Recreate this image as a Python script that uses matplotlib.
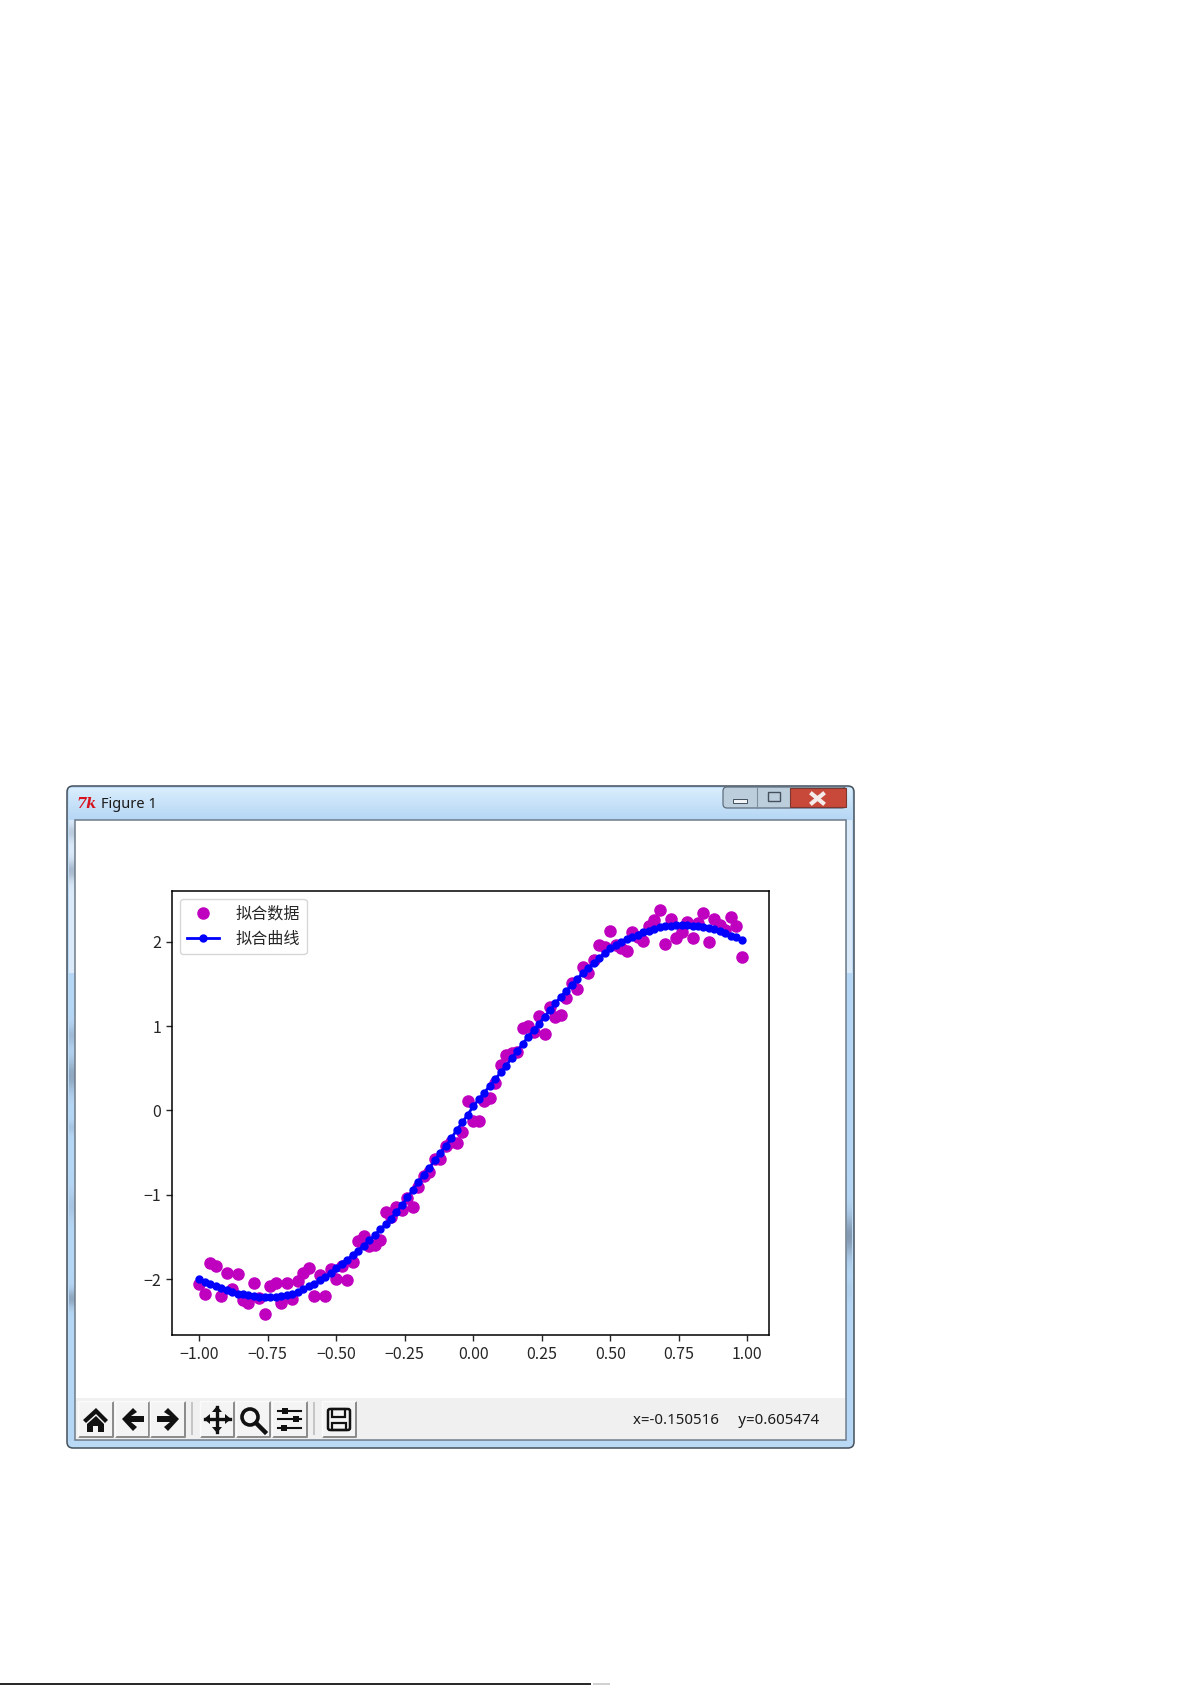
#!/usr/bin/env python3
"""Polynomial fit screenshot: scatter plus fitted curve inside a Tk window."""

import matplotlib
matplotlib.use('Agg')
import matplotlib.pyplot as plt
import numpy as np
from matplotlib.patches import Circle, FancyBboxPatch, Polygon, Rectangle

plt.rcParams['font.family'] = ['Noto Sans CJK SC', 'DejaVu Sans']
plt.rcParams['axes.unicode_minus'] = True

W, H = 1191, 1685

x_values = [
    -1.00, -0.98, -0.96, -0.94, -0.92, -0.90, -0.88, -0.86, -0.84, -0.82,
    -0.80, -0.78, -0.76, -0.74, -0.72, -0.70, -0.68, -0.66, -0.64, -0.62,
    -0.60, -0.58, -0.56, -0.54, -0.52, -0.50, -0.48, -0.46, -0.44, -0.42,
    -0.40, -0.38, -0.36, -0.34, -0.32, -0.30, -0.28, -0.26, -0.24, -0.22,
    -0.20, -0.18, -0.16, -0.14, -0.12, -0.10, -0.08, -0.06, -0.04, -0.02,
    0.00, 0.02, 0.04, 0.06, 0.08, 0.10, 0.12, 0.14, 0.16, 0.18,
    0.20, 0.22, 0.24, 0.26, 0.28, 0.30, 0.32, 0.34, 0.36, 0.38,
    0.40, 0.42, 0.44, 0.46, 0.48, 0.50, 0.52, 0.54, 0.56, 0.58,
    0.60, 0.62, 0.64, 0.66, 0.68, 0.70, 0.72, 0.74, 0.76, 0.78,
    0.80, 0.82, 0.84, 0.86, 0.88, 0.90, 0.92, 0.94, 0.96, 0.98,
]
y_data = [
    -2.05, -2.17, -1.81, -1.84, -2.20, -1.93, -2.12, -1.94, -2.24, -2.28,
    -2.04, -2.22, -2.41, -2.08, -2.04, -2.28, -2.04, -2.23, -2.02, -1.93,
    -1.87, -2.20, -1.95, -2.20, -1.88, -2.00, -1.84, -2.01, -1.79, -1.55,
    -1.49, -1.60, -1.59, -1.53, -1.20, -1.26, -1.14, -1.18, -1.04, -1.14,
    -0.91, -0.78, -0.73, -0.57, -0.58, -0.42, -0.37, -0.38, -0.25, 0.11,
    -0.12, -0.12, 0.11, 0.15, 0.32, 0.54, 0.66, 0.68, 0.69, 0.98,
    1.00, 0.93, 1.12, 0.91, 1.22, 1.11, 1.13, 1.33, 1.51, 1.44,
    1.70, 1.63, 1.78, 1.96, 1.94, 2.13, 1.96, 1.93, 1.89, 2.12,
    2.06, 2.01, 2.18, 2.26, 2.37, 1.97, 2.27, 2.04, 2.11, 2.23,
    2.04, 2.22, 2.34, 1.99, 2.27, 2.20, 2.14, 2.29, 2.19, 1.82,
]
y_fit = [
    -2.00, -2.03, -2.06, -2.08, -2.10, -2.13, -2.15, -2.17, -2.18, -2.19,
    -2.20, -2.21, -2.21, -2.21, -2.21, -2.20, -2.19, -2.17, -2.15, -2.12,
    -2.08, -2.05, -2.01, -1.97, -1.92, -1.87, -1.82, -1.77, -1.71, -1.66,
    -1.60, -1.54, -1.48, -1.41, -1.35, -1.28, -1.20, -1.12, -1.03, -0.94,
    -0.85, -0.76, -0.68, -0.59, -0.50, -0.42, -0.33, -0.23, -0.14, -0.05,
    0.05, 0.13, 0.21, 0.29, 0.37, 0.45, 0.53, 0.62, 0.70, 0.79,
    0.87, 0.95, 1.03, 1.11, 1.19, 1.27, 1.35, 1.42, 1.49, 1.56,
    1.63, 1.69, 1.75, 1.81, 1.87, 1.92, 1.96, 1.99, 2.03, 2.06,
    2.08, 2.11, 2.13, 2.15, 2.17, 2.18, 2.19, 2.20, 2.20, 2.20,
    2.19, 2.18, 2.17, 2.16, 2.15, 2.13, 2.10, 2.07, 2.05, 2.02,
]
x_ticks = [-1.00, -0.75, -0.50, -0.25, 0.00, 0.25, 0.50, 0.75, 1.00]
y_ticks = [-2, -1, 0, 1, 2]
legend_labels = ['拟合数据', '拟合曲线']
window_title = 'Figure 1'
status_text = 'x=-0.150516     y=0.605474'

ICON = '#111111'
TOP = 5  # toolbar glyphs sit above the client area


def rect(bg, x0, y0, x1, y1, color, **kw):
    kw.setdefault('zorder', TOP)
    bg.add_patch(Rectangle((x0, y0), x1 - x0, y1 - y0, facecolor=color,
                           edgecolor=kw.pop('edge', 'none'), **kw))


def poly(bg, pts, color=ICON):
    bg.add_patch(Polygon(pts, closed=True, facecolor=color, edgecolor='none', zorder=TOP + 1))


def button(bg, x0, x1):
    rect(bg, x0, 1401, x1, 1437, '#f4f4f4')
    bg.plot([x0, x1, x1], [1437, 1437, 1401], color='#8a8a8a', lw=1.4,
            solid_capstyle='butt', zorder=TOP)
    bg.plot([x0, x0, x1], [1437, 1401, 1401], color='#fbfbfb', lw=1.0,
            solid_capstyle='butt', zorder=TOP)


def glass_strip(bg, x0, x1, smudges):
    """Side border of the window: pale above y=973, blue below, soft grey smudges."""
    ys = np.arange(820, 1441)
    col = np.where(ys[:, None] < 973, np.array([0.86, 0.92, 0.98]), np.array([0.71, 0.84, 0.96]))
    grey = np.array([0.50, 0.58, 0.67])
    for centre, spread, strength in smudges:
        a = strength * np.exp(-((ys - centre) / spread) ** 2)[:, None]
        col = col * (1 - a) + grey * a
    bg.imshow(col[:, None, :], extent=[x0, x1, 1441, 820], aspect='auto', zorder=1.2)


def draw_window(bg):
    bg.add_patch(FancyBboxPatch((67, 786), 787, 662, boxstyle='round,pad=0,rounding_size=6',
                                facecolor='#b9d9f5', edgecolor='#44505c', lw=1.1))
    # title bar gradient
    grad = np.linspace(0, 1, 30)[:, None, None]
    top = np.array([0.85, 0.93, 0.99])
    low = np.array([0.71, 0.84, 0.96])
    bg.imshow(top + (low - top) * grad, extent=[69, 852, 820, 788], aspect='auto', zorder=1)
    glass_strip(bg, 69, 75, [(832, 8, 0.35), (870, 10, 0.55), (1035, 10, 0.4), (1075, 16, 0.7),
                             (1127, 6, 0.25), (1205, 14, 0.25), (1298, 9, 0.7)])
    glass_strip(bg, 847, 852, [(1235, 20, 0.9), (1290, 10, 0.12)])
    # client area
    rect(bg, 75, 820, 846, 1440, 'white', zorder=2, edge='#6c7a88', lw=1.1)
    rect(bg, 76, 1398, 845, 1439, '#f0f0f0', zorder=2)

    # caption buttons
    bg.add_patch(FancyBboxPatch((723, 787), 123, 21, boxstyle='round,pad=0,rounding_size=4',
                                facecolor='#bccddc', edgecolor='#5f6e7c', lw=0.9, zorder=2))
    bg.plot([757, 757], [787, 808], color='#7f8e9c', lw=0.8, zorder=3)
    rect(bg, 790, 788, 846, 807, '#c8483a', zorder=3, edge='#7c3830', lw=0.8)
    rect(bg, 733, 799, 747, 803, '#f2f5f8', zorder=3, edge='#44505c', lw=0.7)
    rect(bg, 768, 792, 780, 801, 'none', zorder=3, edge='#44505c', lw=1.0)
    bg.plot([812, 823], [794, 803], color='#f4ecea', lw=3, zorder=4)
    bg.plot([812, 823], [803, 794], color='#f4ecea', lw=3, zorder=4)

    bg.text(76, 804, '7k', color='#d8121e', fontsize=10.5, fontweight='bold', style='italic',
            va='center', ha='left', zorder=3, family=['DejaVu Serif'])
    bg.text(101, 805, window_title, color='#1a1a1a', fontsize=10.5, va='center', ha='left',
            zorder=3, family=['Noto Sans'])
    bg.text(633, 1420, status_text, color='#1a1a1a', fontsize=10.8, va='center', ha='left',
            zorder=3, family=['Noto Sans'])


def draw_toolbar(bg):
    for x0, x1 in [(78, 113), (115, 149), (150, 185), (200, 234), (236, 270), (272, 307), (322, 356)]:
        button(bg, x0, x1)
    bg.plot([192, 192], [1403, 1434], color='#c4c4c4', lw=1.4, zorder=TOP)
    bg.plot([314, 314], [1403, 1434], color='#c4c4c4', lw=1.4, zorder=TOP)

    # home
    poly(bg, [(83, 1420), (96, 1408), (108, 1420), (105, 1423), (96, 1414), (86, 1423)])
    poly(bg, [(87, 1424), (96, 1416), (104, 1424), (104, 1432), (98, 1432), (98, 1426),
              (93, 1426), (93, 1432), (87, 1432)])
    # back / forward
    poly(bg, [(122, 1419), (133, 1408), (137, 1412), (131, 1416), (144, 1416), (144, 1422),
              (131, 1422), (137, 1427), (133, 1431)])
    poly(bg, [(179, 1419), (168, 1408), (164, 1412), (170, 1416), (157, 1416), (157, 1422),
              (170, 1422), (164, 1427), (168, 1431)])
    # pan
    bg.plot([205, 230], [1419, 1419], color=ICON, lw=2.4, zorder=TOP + 1)
    bg.plot([217, 217], [1407, 1432], color=ICON, lw=2.4, zorder=TOP + 1)
    poly(bg, [(204, 1419), (210, 1414), (210, 1424)])
    poly(bg, [(231, 1419), (225, 1414), (225, 1424)])
    poly(bg, [(217, 1406), (212, 1412), (222, 1412)])
    poly(bg, [(217, 1433), (212, 1427), (222, 1427)])
    # zoom
    bg.add_patch(Circle((250, 1417), 8, facecolor='none', edgecolor=ICON, lw=2.6, zorder=TOP + 1))
    bg.plot([256, 265], [1423, 1432], color=ICON, lw=3.2, zorder=TOP + 1)
    # configure
    for y, xs in [(1411, 285), (1419, 296), (1428, 284)]:
        bg.plot([278, 301], [y, y], color=ICON, lw=1.5, zorder=TOP + 1)
        rect(bg, xs - 3, y - 3, xs + 3, y + 3, ICON, zorder=TOP + 1)
    # save
    bg.add_patch(FancyBboxPatch((328, 1409), 22, 21, boxstyle='round,pad=0,rounding_size=2',
                                facecolor='none', edgecolor=ICON, lw=1.8, zorder=TOP + 1))
    rect(bg, 332, 1409, 345, 1417, 'none', edge=ICON, lw=1.6, zorder=TOP + 1)
    rect(bg, 332, 1423, 346, 1430, 'none', edge=ICON, lw=1.6, zorder=TOP + 1)


def main():
    fig = plt.figure(figsize=(W / 100, H / 100), dpi=100, facecolor='white')

    bg = fig.add_axes([0, 0, 1, 1], zorder=0)
    draw_window(bg)
    draw_toolbar(bg)
    bg.plot([0, 591], [1684, 1684], color='black', lw=1.2, solid_capstyle='butt')
    bg.plot([593, 610], [1684, 1684], color='#c8c8c8', lw=1.2, solid_capstyle='butt')
    bg.set_xlim(0, W)
    bg.set_ylim(H, 0)
    bg.axis('off')

    ax = fig.add_axes([172 / W, 1 - 1335 / H, 597 / W, 444 / H], zorder=1)
    ax.plot(x_values, y_data, 'o', color='#bf00bf', ms=8, label=legend_labels[0])
    ax.plot(x_values, y_fit, '.-', color='#0000ff', lw=2.0, ms=10, label=legend_labels[1])
    ax.set_xticks(x_ticks)
    ax.set_xticklabels([f'{v:.2f}'.replace('-', '\u2212') for v in x_ticks])
    ax.set_yticks(y_ticks)
    ax.set_ylim(-2.66, 2.60)
    ax.tick_params(labelsize=11.5, length=4.2, width=1, colors='#262626')
    for s in ax.spines.values():
        s.set_linewidth(1.1)
    ax.legend(loc='upper left', fontsize=11.6, handletextpad=1.05, labelcolor='#262626')

    fig.savefig('out.png', dpi=100)
    plt.close(fig)


if __name__ == '__main__':
    main()
